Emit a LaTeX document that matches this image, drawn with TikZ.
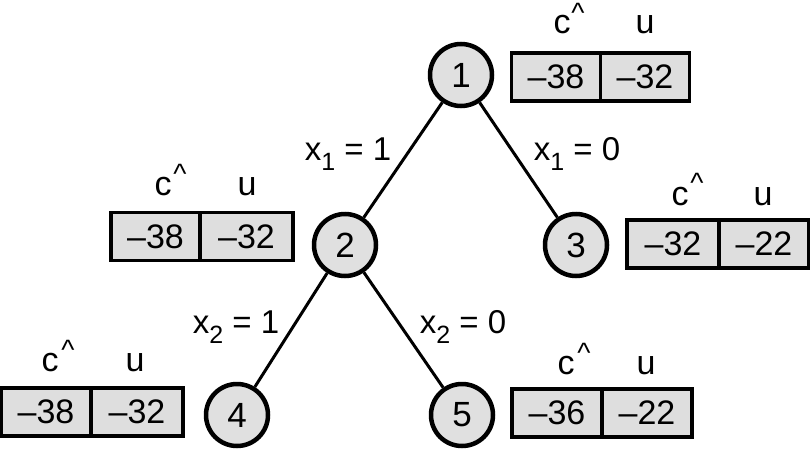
\documentclass[tikz,border=0pt]{standalone}
\usepackage{fontspec}
\setmainfont{Liberation Sans}
\newcommand{\sbs}[1]{\raisebox{-0.32em}{\fontsize{25}{25}\selectfont #1}}
\begin{document}
\begin{tikzpicture}[x=1pt,y=-1pt,
  tnode/.style={circle,draw=black,line width=4.5pt,fill=black!12,minimum size=62pt,inner sep=0pt,font=\fontsize{35}{35}\selectfont},
  cell/.style={rectangle,draw=black,line width=3.8pt,fill=black!13,minimum height=48pt,inner sep=0pt,font=\fontsize{34}{34}\selectfont},
  hdr/.style={inner sep=0pt,font=\fontsize{34}{34}\selectfont},
  hat/.style={inner sep=0pt,font=\fontsize{28}{28}\selectfont},
  elab/.style={inner sep=0pt,font=\fontsize{33}{33}\selectfont},
  edge/.style={line width=3pt}]
\useasboundingbox (0,0) rectangle (810,452);
% tree nodes
\node[tnode] (n1) at (461,75) {1};
\node[tnode] (n2) at (345,245) {2};
\node[tnode] (n3) at (576,245) {3};
\node[tnode] (n4) at (237,415) {4};
\node[tnode] (n5) at (462,415) {5};
\draw[edge] (n1) -- (n2);
\draw[edge] (n1) -- (n3);
\draw[edge] (n2) -- (n4);
\draw[edge] (n2) -- (n5);
% edge labels
\node[elab] (l1) at (348,154) {x\sbs{1} = 1};
\node[elab] (l2) at (577,154) {x\sbs{1} = 0};
\node[elab] (l3) at (236,327) {x\sbs{2} = 1};
\node[elab] (l4) at (463,327) {x\sbs{2} = 0};
% box 1
\node[cell,minimum width=89pt] (b1c) at (556,77) {--38};
\node[cell,minimum width=89pt] (b1u) at (645,77) {--32};
\node[hdr] (h1c) at (562,25) {c};
\node[hat] (k1) at (578,13) {\^{}};
\node[hdr] (h1u) at (645,25) {u};
% box 2
\node[cell,minimum width=89pt] (b2c) at (155.5,236.5) {--38};
\node[cell,minimum width=93pt] (b2u) at (246.5,236.5) {--32};
\node[hdr] (h2c) at (163,187) {c};
\node[hat] (k2) at (180,174) {\^{}};
\node[hdr] (h2u) at (247,187) {u};
% box 3
\node[cell,minimum width=92pt] (b3c) at (673,244) {--32};
\node[cell,minimum width=90pt] (b3u) at (764,244) {--22};
\node[hdr] (h3c) at (680,197) {c};
\node[hat] (k3) at (697,183) {\^{}};
\node[hdr] (h3u) at (763,197) {u};
% box 4
\node[cell,minimum width=90pt] (b4c) at (46,412) {--38};
\node[cell,minimum width=92pt] (b4u) at (137,412) {--32};
\node[hdr] (h4c) at (50,363) {c};
\node[hat] (k4) at (68,350) {\^{}};
\node[hdr] (h4u) at (135,363) {u};
% box 5
\node[cell,minimum width=90pt] (b5c) at (557,413) {--36};
\node[cell,minimum width=90pt] (b5u) at (647,413) {--22};
\node[hdr] (h5c) at (566,366) {c};
\node[hat] (k5) at (584,353) {\^{}};
\node[hdr] (h5u) at (646,366) {u};
\end{tikzpicture}
\end{document}
